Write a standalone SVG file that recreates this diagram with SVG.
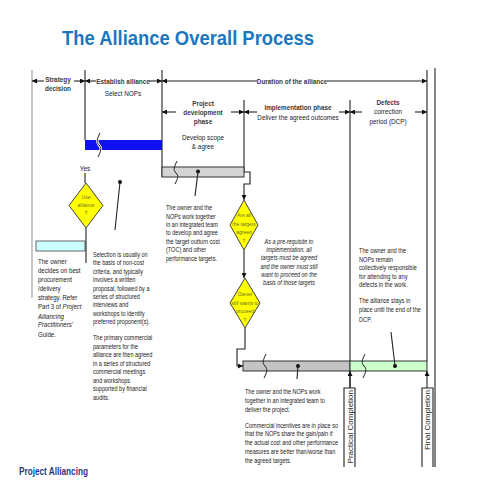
<svg xmlns="http://www.w3.org/2000/svg" width="480" height="480" viewBox="0 0 480 480">
<style>
text{font-family:"Liberation Sans",Arial,sans-serif;fill:#222}
.s{font-size:7px}
.l{font-size:7.5px}
.h{font-size:7.5px}
.hb{font-size:7.5px;font-weight:bold;fill:#3a3a3a}
.d{font-size:6.2px;fill:#6e6e2c;text-anchor:middle}
.c{text-anchor:middle}
.ln{stroke:#222;stroke-width:1.1;fill:none}
.gl{stroke:#999;stroke-width:1.1;fill:none}
.dia{fill:#ffff00;stroke:#444;stroke-width:1}
.sq{fill:none;stroke:#222;stroke-width:1}
</style>
<defs>
<marker id="ah" viewBox="0 0 6 6" refX="6" refY="3" markerWidth="5" markerHeight="5" markerUnits="userSpaceOnUse" orient="auto"><path d="M0,0 L6,3 L0,6 z" fill="#111"/></marker>
</defs>
<rect width="480" height="480" fill="#fff"/>

<g id="title"><text x="62" y="45" font-size="21" font-weight="bold" style="fill:#1a77c0" textLength="252" lengthAdjust="spacingAndGlyphs">The Alliance Overall Process</text></g>

<g id="dividers">
<path class="gl" d="M32,70 V298"/>
<path class="ln" d="M85,70 V140"/>
<path class="ln" d="M162,70 V177"/>
<path class="ln" d="M244,100 V172"/>
<path class="ln" d="M350,100 V388"/>
<path class="ln" d="M427,70 V361"/>
<path class="ln" d="M435,68 V467"/>
</g>

<g id="headers">
<path class="ln" d="M44,81 H32" marker-end="url(#ah)"/>
<path class="ln" d="M74,81 H85" marker-end="url(#ah)"/>
<g transform="translate(58 0) scale(0.85 1)"><text class="hb c" x="0" y="82">Strategy</text><text class="hb c" x="0" y="91">decision</text></g>
<path class="ln" d="M96,81 H85" marker-end="url(#ah)"/>
<path class="ln" d="M149,81 H162" marker-end="url(#ah)"/>
<g transform="translate(123 0) scale(0.85 1)"><text class="hb c" x="0" y="84">Establish alliance</text><text class="h c" x="0" y="96">Select NOPs</text></g>
<path class="ln" d="M257,81 H162" marker-end="url(#ah)"/>
<path class="ln" d="M327,81 H427" marker-end="url(#ah)"/>
<g transform="translate(292 0) scale(0.85 1)"><text class="hb c" x="0" y="84">Duration of the alliance</text></g>

<path class="ln" d="M176,112 H162" marker-end="url(#ah)"/>
<path class="ln" d="M231,112 H244" marker-end="url(#ah)"/>
<g transform="translate(203 0) scale(0.85 1)"><text class="hb c" x="0" y="106">Project</text><text class="hb c" x="0" y="115">development</text><text class="hb c" x="0" y="124">phase</text><text class="h c" x="0" y="140">Develop scope</text><text class="h c" x="0" y="149">&amp; agree</text></g>
<path class="ln" d="M257,112 H244" marker-end="url(#ah)"/>
<path class="ln" d="M339,112 H350" marker-end="url(#ah)"/>
<g transform="translate(298 0) scale(0.85 1)"><text class="hb c" x="0" y="110">Implementation phase</text><text class="h c" x="0" y="120">Deliver the agreed  outcomes</text></g>
<path class="ln" d="M362,112 H350" marker-end="url(#ah)"/>
<path class="ln" d="M415,112 H427" marker-end="url(#ah)"/>
<g transform="translate(388 0) scale(0.85 1)"><text class="hb c" x="0" y="105.5">Defects</text><text class="h c" x="0" y="114.5">correction</text><text class="h c" x="0" y="124.5">period (DCP)</text></g>
</g>

<g id="bar-establish">
<rect x="85" y="140" width="77" height="10" fill="#1010ee"/>
<path d="M100,133 C97,139 96,142 99,145 C102,148 101,151 98,157" fill="none" stroke="#fff" stroke-width="2.5"/>
<path class="sq" d="M100,133 C97,139 96,142 99,145 C102,148 101,151 98,157"/>
</g>
<g id="bar-development">
<rect x="162" y="167" width="82" height="10" fill="#d4d4d4" stroke="#333" stroke-width="1"/>
<path class="sq" d="M177,161 C174,167 173,170 176,173 C179,176 178,178 175,184"/>
<circle cx="198" cy="171.5" r="2" fill="#111"/>
</g>
<g id="bar-strategy">
<rect x="36" y="241" width="49" height="10" fill="#ccffff" stroke="#666" stroke-width="1"/>
</g>
<g id="bar-implementation">
<rect x="243" y="361" width="107" height="10" fill="#c4c4c4" stroke="#333" stroke-width="1"/>
<path class="sq" d="M266,354 C263,360 262,363 265,366 C268,369 267,372 264,378"/>
<circle cx="298" cy="366" r="2" fill="#111"/>
</g>
<g id="bar-dcp">
<rect x="350" y="361" width="77" height="10" fill="#ccffcc" stroke="#333" stroke-width="1"/>
<path class="sq" d="M365,354 C362,360 361,363 364,366 C367,369 366,372 363,378"/>
<circle cx="395" cy="366" r="2" fill="#111"/>
</g>

<g id="decision-use-alliance">
<polygon class="dia" points="86,183 103,205.5 86,228 69,205.5"/>
<g transform="translate(86 0) scale(0.8 1)"><text class="d" x="0" y="199">Use</text><text class="d" x="0" y="207">alliance</text><text class="d" x="0" y="215.5">?</text></g>
</g>
<g id="decision-targets">
<polygon class="dia" points="244,200 258,225 244,250 230,225"/>
<g transform="translate(244 0) scale(0.8 1)"><text class="d" x="0" y="217">Are all</text><text class="d" x="0" y="226">the targets</text><text class="d" x="0" y="234.5">agreed</text><text class="d" x="0" y="243">?</text></g>
</g>
<g id="decision-proceed">
<polygon class="dia" points="245,278 260,303 245,328 230,303"/>
<g transform="translate(245 0) scale(0.8 1)"><text class="d" x="0" y="296">Owner</text><text class="d" x="0" y="305">still wants to</text><text class="d" x="0" y="313.5">proceed</text><text class="d" x="0" y="322">?</text></g>
</g>

<g id="connectors">
<text class="s c" x="85" y="170.5" style="font-size:6.5px">Yes</text>
<path class="ln" d="M85,173 V183"/>
<path class="ln" d="M86,228 V263"/>
<path class="ln" d="M120,182 L115,230"/>
<circle cx="120" cy="182" r="2" fill="#111"/>
<path class="ln" d="M198,172 L195,196"/>
<path class="ln" d="M244,172 H250 V184 H244 V200" marker-end="url(#ah)"/>
<path class="ln" d="M244,250 V278" marker-end="url(#ah)"/>
<path class="ln" d="M245,328 V349 H237 V366 H243" marker-end="url(#ah)"/>
<path class="ln" d="M298,366 L297,379"/>
<path class="ln" d="M395,366 L391,332"/>
<path class="ln" d="M350,388 V371" marker-end="url(#ah)"/>
<path class="ln" d="M427,388 V371" marker-end="url(#ah)"/>
</g>

<g id="practical-completion">
<path class="ln" d="M344,467 V388 H355 V467"/>
<text transform="translate(352.8 390) rotate(-90)" font-size="8" text-anchor="end">Practical Completion</text>
</g>
<g id="final-completion">
<path class="ln" d="M422,467 V388 H433 V467"/>
<text transform="translate(430.3 390) rotate(-90)" font-size="8" text-anchor="end">Final Completion</text>
</g>

<g id="note-strategy" transform="translate(38 0) scale(0.81 1)">
<text class="l" x="0" y="264">The  owner</text>
<text class="l" x="0" y="273">decides on best</text>
<text class="l" x="0" y="282.5">procurement</text>
<text class="l" x="0" y="291.5">/delivery</text>
<text class="l" x="0" y="300.5">strategy.   Refer</text>
<text class="l" x="0" y="309">Part 3 of <tspan font-style="italic">Project</tspan></text>
<text class="l" x="0" y="319" font-style="italic">Alliancing</text>
<text class="l" x="0" y="327.5" font-style="italic">Practitioners'</text>
<text class="l" x="0" y="337.5">Guide.</text>
</g>

<g id="note-selection" transform="translate(93 0) scale(0.79 1)">
<text class="s" x="0" y="257">Selection is usually on</text>
<text class="s" x="0" y="265.5">the basis of non-cost</text>
<text class="s" x="0" y="274">criteria, and typically</text>
<text class="s" x="0" y="282.5">involves a written</text>
<text class="s" x="0" y="291">proposal, followed by a</text>
<text class="s" x="0" y="299">series of structured</text>
<text class="s" x="0" y="307.5">interviews and</text>
<text class="s" x="0" y="316">workshops to identify</text>
<text class="s" x="0" y="324.5">preferred proponent(s).</text>
<text class="s" x="0" y="340">The primary commercial</text>
<text class="s" x="0" y="349">parameters for the</text>
<text class="s" x="0" y="357.5">alliance are then agreed</text>
<text class="s" x="0" y="366">in a series of structured</text>
<text class="s" x="0" y="374.5">commercial meetings</text>
<text class="s" x="0" y="383">and workshops</text>
<text class="s" x="0" y="391.5">supported by financial</text>
<text class="s" x="0" y="400">audits.</text>
</g>

<g id="note-development" transform="translate(166 0) scale(0.79 1)">
<text class="s" x="0" y="210.5">The owner and the</text>
<text class="s" x="0" y="219">NOPs work together</text>
<text class="s" x="0" y="227">in an integrated team</text>
<text class="s" x="0" y="235.5">to develop and agree</text>
<text class="s" x="0" y="244">the target outturn cost</text>
<text class="s" x="0" y="252">(TOC) and other</text>
<text class="s" x="0" y="261">performance targets.</text>
</g>

<g id="note-prerequisite" transform="translate(289 0) scale(0.78 1)" font-style="italic">
<text class="s c" x="0" y="244">As a pre-requisite to</text>
<text class="s c" x="0" y="252">implementation, all</text>
<text class="s c" x="0" y="260.5">targets must be agreed</text>
<text class="s c" x="0" y="269">and the owner must still</text>
<text class="s c" x="0" y="277">want to proceed on the</text>
<text class="s c" x="0" y="285.5">basis of those targets</text>
</g>

<g id="note-dcp" transform="translate(359 0) scale(0.81 1)">
<text class="s" x="0" y="253">The owner and the</text>
<text class="s" x="0" y="262">NOPs remain</text>
<text class="s" x="0" y="270.5">collectively responsible</text>
<text class="s" x="0" y="279">for attending to any</text>
<text class="s" x="0" y="287.5">defects in the work.</text>
<text class="s" x="0" y="303.5">The alliance stays in</text>
<text class="s" x="0" y="312.5">place until the end of the</text>
<text class="s" x="0" y="322">DCP.</text>
</g>

<g id="note-implementation" transform="translate(245 0) scale(0.79 1)">
<text class="s" x="0" y="394.5">The owner and the NOPs work</text>
<text class="s" x="0" y="403">together in an integrated team to</text>
<text class="s" x="0" y="412">deliver the project.</text>
<text class="s" x="0" y="428">Commercial incentives are in place so</text>
<text class="s" x="0" y="436.5">that the NOPs  share the gain/pain if</text>
<text class="s" x="0" y="445">the actual cost  and other performance</text>
<text class="s" x="0" y="454">measures are better than/worse than</text>
<text class="s" x="0" y="463">the agreed targets.</text>
</g>

<g id="footer"><text x="19" y="475" font-size="11" font-weight="bold" style="fill:#1f3c78" textLength="69" lengthAdjust="spacingAndGlyphs">Project Alliancing</text></g>
</svg>
